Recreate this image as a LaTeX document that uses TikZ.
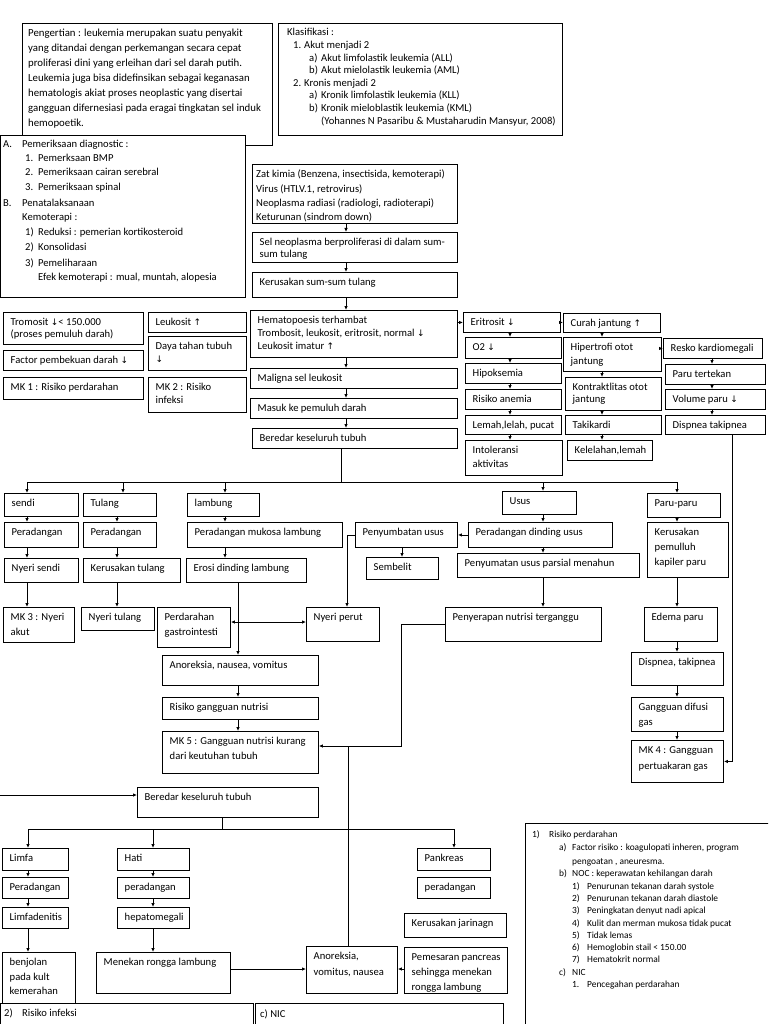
\documentclass[tikz,border=0pt]{standalone}
\usepackage{fontspec}
\setmainfont{Carlito}
\newfontfamily\dvfont{DejaVu Sans}[Scale=0.85]
\usetikzlibrary{arrows.meta,calc}
\newcommand\da{{\dvfont ↓}}
\newcommand\ua{{\dvfont ↑}}
\newcommand\fsz{10.6}
\tikzset{
  boxs/.style={draw=black, line width=0.9pt, fill=white, inner sep=0pt, rectangle},
  txt/.style={inner sep=0pt, align=left, font=\fontsize{\fsz}{14}\selectfont},
  arr/.style={line width=0.8pt, -{Latex[length=4pt,width=3.5pt]}},
  darr/.style={line width=0.8pt, {Latex[length=4pt,width=3.5pt]}-{Latex[length=4pt,width=3.5pt]}},
  ln/.style={line width=0.8pt},
}
% box: [spacing]{name}{x1}{y1}{x2}{y2}{text}
\newcommand\bx[7][14]{%
  \node[boxs, anchor=north west, minimum width={(#5-#3)*1pt}, minimum height={(#6-#4)*1pt}] (#2) at (#3,#4) {};
  \node[txt, anchor=north west, font=\fontsize{\fsz}{#1}\selectfont] (#2-t) at (#3+7.5,#4+4.5) {\rule{0pt}{9pt}#7};
}
\newcommand\ebx[5]{%
  \node[boxs, anchor=north west, minimum width={(#4-#2)*1pt}, minimum height={(#5-#3)*1pt}] (#1) at (#2,#3) {};
}
% text line: {name}{x}{baseline y}{text}
\newcommand\tl[4]{\node[txt, anchor=base west] (#1) at (#2,#3) {#4};}
\newcommand\va[3]{\draw[arr] (#1.south -| #3) -- (#2.north -| #3);}
\begin{document}
\begin{tikzpicture}[x=1pt,y=-1pt]
\useasboundingbox (0,0) rectangle (768,1024);
\clip (0,0) rectangle (768,1024);
\fill[white] (0,0) rectangle (768,1024);

% ---------- top text boxes ----------
\ebx{peng}{22}{23}{272}{145}
\node[txt, anchor=north west, font=\fontsize{10.8}{15}\selectfont] (peng-t) at (28,27) {\rule{0pt}{9pt}Pengertian : leukemia merupakan suatu penyakit\\
yang ditandai dengan perkemangan secara cepat\\
proliferasi dini yang erleihan dari sel darah putih.\\
Leukemia juga bisa didefinsikan sebagai keganasan\\
hematologis akiat proses neoplastic yang disertai\\
gangguan difernesiasi pada eragai tingkatan sel induk\\
hemopoetik.};

\ebx{klas}{278}{23}{562}{135}
\begin{scope}[txt/.append style={font=\fontsize{10.6}{13}\selectfont}]
\tl{k1}{287}{36}{Klasifikasi :}
\tl{k2a}{293}{48.6}{1.}\tl{k2}{304}{48.6}{Akut menjadi 2}
\tl{k3a}{309}{61.2}{a)}\tl{k3}{321}{61.2}{Akut limfolastik leukemia (ALL)}
\tl{k4a}{309}{73.8}{b)}\tl{k4}{321}{73.8}{Akut mielolastik leukemia (AML)}
\tl{k5a}{293}{86.4}{2.}\tl{k5}{304}{86.4}{Kronis menjadi 2}
\tl{k6a}{309}{99}{a)}\tl{k6}{321}{99}{Kronik limfolastik leukemia (KLL)}
\tl{k7a}{309}{111.6}{b)}\tl{k7}{321}{111.6}{Kronik mieloblastik leukemia (KML)}
\tl{k8}{321}{124.2}{(Yohannes N Pasaribu \& Mustaharudin Mansyur, 2008)}
\end{scope}

\ebx{diag}{0}{135}{245}{297}
\tl{d1a}{3}{148}{A.}\tl{d1}{22}{148}{Pemeriksaan diagnostic :}
\tl{d2a}{25}{162}{1.}\tl{d2}{38}{162}{Pemerksaan BMP}
\tl{d3a}{25}{176}{2.}\tl{d3}{38}{176}{Pemeriksaan cairan serebral}
\tl{d4a}{25}{191}{3.}\tl{d4}{38}{191}{Pemeriksaan spinal}
\tl{d5a}{3}{207}{B.}\tl{d5}{22}{207}{Penatalaksanaan}
\tl{d6}{22}{221}{Kemoterapi :}
\tl{d7a}{25}{236}{1)}\tl{d7}{38}{236}{Reduksi : pemerian kortikosteroid}
\tl{d8a}{25}{251}{2)}\tl{d8}{38}{251}{Konsolidasi}
\tl{d9a}{25}{266}{3)}\tl{d9}{38}{266}{Pemeliharaan}
\tl{d10}{38}{280}{Efek kemoterapi : mual, muntah, alopesia}

% ---------- main column ----------
\node[boxs, anchor=north west, minimum width=205pt, minimum height=59pt] (zat) at (252,164) {};
\node[txt, anchor=north west, font=\fontsize{\fsz}{14.3}\selectfont] (zat-t) at (256,168.5) {\rule{0pt}{9pt}Zat kimia (Benzena, insectisida, kemoterapi)\\Virus (HTLV.1, retrovirus)\\Neoplasma radiasi (radiologi, radioterapi)\\Keturunan (sindrom down)};
\bx[12]{sel}{252}{232}{457}{262}{Sel neoplasma berproliferasi di dalam sum-\\sum tulang}
\bx{kerus}{252}{272}{457}{297}{Kerusakan sum-sum tulang}
\bx[13]{hema}{250}{310}{457}{357}{Hematopoesis terhambat\\Trombosit, leukosit, eritrosit, normal \da\\Leukosit imatur \ua}
\bx{maligna}{250}{368}{457}{388}{Maligna sel leukosit}
\bx{masuk}{250}{398}{457}{418}{Masuk ke pemuluh darah}
\bx{beredar}{252}{428}{457}{448}{Beredar keseluruh tubuh}

% ---------- left column ----------
\bx[12]{trom}{3}{312}{143}{344}{Tromosit \da< 150.000\\(proses pemuluh darah)}
\bx{factor}{3}{350}{143}{370}{Factor pembekuan darah \da}
\bx{mk1}{3}{377}{143}{399}{MK 1 : Risiko perdarahan}
\bx{leuk}{148}{312}{246}{332}{Leukosit \ua}
\bx[13]{daya}{148}{336}{246}{370}{Daya tahan tubuh\\\da}
\bx[13]{mk2}{148}{377}{246}{412}{MK 2 : Risiko\\infeksi}

% ---------- right columns ----------
\bx{erit}{463}{312}{560}{332}{Eritrosit \da}
\bx{curah}{563}{313}{660}{332}{Curah jantung \ua}
\bx{o2}{465}{337}{561}{358}{O2 \da}
\bx{hipok}{465}{363}{561}{383}{Hipoksemia}
\bx{anemia}{465}{389}{561}{409}{Risiko anemia}
\bx{lemah}{465}{415}{561}{434}{Lemah,lelah, pucat}
\bx{intol}{465}{440}{562}{475}{Intoleransi\\aktivitas}
\bx{hipert}{563}{337}{661}{371}{Hipertrofi otot\\jantung}
\bx[12]{kontr}{565}{377}{661}{410}{Kontraktlitas otot\\jantung}
\bx{taki}{565}{415}{661}{434}{Takikardi}
\bx{kelel}{567}{440}{652}{460}{Kelelahan,lemah}
\bx{resko}{663}{338}{762}{358}{Resko kardiomegali}
\bx{parut}{665}{364}{765}{384}{Paru tertekan}
\bx{volume}{665}{389}{765}{409}{Volume paru \da}
\bx{dispt}{665}{415}{765}{434}{Dispnea takipnea}

% ---------- middle row ----------
\bx{sendi}{4}{493}{78}{516}{sendi}
\bx{tulang}{83}{493}{156}{516}{Tulang}
\bx{lambung}{187}{493}{259}{516}{lambung}
\bx{usus}{502}{491}{576}{514}{Usus}
\bx{paru}{647}{493}{720}{517}{Paru-paru}
\bx{perad1}{4}{522}{78}{547}{Peradangan}
\bx{perad2}{83}{522}{156}{547}{Peradangan}
\bx{peradml}{187}{522}{342}{547}{Peradangan mukosa lambung}
\bx{penyumb}{355}{522}{457}{547}{Penyumbatan usus}
\bx{peraddu}{468}{522}{612}{547}{Peradangan dinding usus}
\bx[15]{kerparu}{647}{522}{728}{577}{Kerusakan\\pemulluh\\kapiler paru}
\bx{nyerisendi}{4}{558}{78}{582}{Nyeri sendi}
\bx{kertulang}{83}{558}{180}{582}{Kerusakan tulang}
\bx{erosi}{186}{558}{306}{582}{Erosi dinding lambung}
\bx{sembelit}{366}{557}{438}{579}{Sembelit}
\bx{penyumat}{457}{553}{639}{577}{Penyumatan usus parsial menahun}
\bx[15]{mk3}{3}{607}{74}{642}{MK 3 : Nyeri\\akut}
\bx{nyeritulang}{81}{607}{154}{630}{Nyeri tulang}
\bx[15]{perdgi}{157}{607}{230}{647}{Perdarahan\\gastrointesti}
\bx{nyeriperut}{306}{607}{379}{641}{Nyeri perut}
\bx{penyerapan}{445}{607}{601}{641}{Penyerapan nutrisi terganggu}
\bx{edema}{644}{607}{717}{641}{Edema paru}
\bx{anor1}{162}{655}{318}{685}{Anoreksia, nausea, vomitus}
\bx{dispnea2}{631}{652}{723}{685}{Dispnea, takipnea}
\bx{risgizi}{162}{697}{318}{719}{Risiko gangguan nutrisi}
\bx[15]{gangg}{631}{697}{723}{731}{Gangguan difusi\\gas}
\bx[15]{mk5}{162}{731}{318}{773}{MK 5 : Gangguan nutrisi kurang\\dari keutuhan tubuh}
\bx[16]{mk4}{631}{740}{723}{782}{MK 4 : Gangguan\\pertuakaran gas}

% ---------- lower part ----------
\bx{beredar2}{137}{787}{318}{817}{Beredar keseluruh tubuh}
\bx{limfa}{2}{848}{68}{870}{Limfa}
\bx{hati}{117}{848}{189}{870}{Hati}
\bx{pankreas}{417}{848}{490}{870}{Pankreas}
\bx{perad3}{2}{877}{68}{898}{Peradangan}
\bx{perad4}{117}{877}{189}{898}{peradangan}
\bx{perad5}{417}{877}{490}{898}{peradangan}
\bx{limfad}{2}{907}{68}{928}{Limfadenitis}
\bx{hepato}{117}{907}{189}{928}{hepatomegali}
\bx{kerjar}{404}{913}{506}{937}{Kerusakan jarinagn}
\bx[14.5]{benjolan}{2}{952}{75}{1003}{benjolan\\pada kult\\kemerahan}
\bx{menekan}{96}{952}{230}{993}{Menekan rongga lambung}
\bx[16]{anor2}{306}{946}{397}{993}{Anoreksia,\\vomitus, nausea}
\bx[15]{pemes}{404}{947}{507}{993}{Pemesaran pancreas\\sehingga menekan\\rongga lambung}

% bottom list boxes
\ebx{rinf}{0}{1003}{253}{1040}
\tl{ri1a}{4}{1016}{2)}\tl{ri1}{22}{1016}{Risiko infeksi}
\ebx{nic}{255}{1003}{503}{1040}
\tl{nic1}{260}{1017}{c) NIC}
\ebx{rbox}{525}{823}{772}{1040}
\begin{scope}[txt/.append style={font=\fontsize{9.4}{12}\selectfont}]
\tl{r1a}{532}{837}{1)}\tl{r1}{549}{837}{Risiko perdarahan}
\tl{r2a}{559}{850}{a)}\tl{r2}{572}{850}{Factor risiko : koagulopati inheren, program}
\tl{r3}{572}{864}{pengoatan , aneuresma.}
\tl{r4a}{559}{876}{b)}\tl{r4}{572}{876}{NOC : keperawatan kehilangan darah}
\tl{r5a}{572}{889}{1)}\tl{r5}{587}{889}{Penurunan tekanan darah systole}
\tl{r6a}{572}{901}{2)}\tl{r6}{587}{901}{Penurunan tekanan darah diastole}
\tl{r7a}{572}{913}{3)}\tl{r7}{587}{913}{Peningkatan denyut nadi apical}
\tl{r8a}{572}{926}{4)}\tl{r8}{587}{926}{Kulit dan merman mukosa tidak pucat}
\tl{r9a}{572}{938}{5)}\tl{r9}{587}{938}{Tidak lemas}
\tl{r10a}{572}{950}{6)}\tl{r10}{587}{950}{Hemoglobin stail < 150.00}
\tl{r11a}{572}{962}{7)}\tl{r11}{587}{962}{Hematokrit normal}
\tl{r12a}{559}{975}{c)}\tl{r12}{572}{975}{NIC}
\tl{r13a}{572}{987}{1.}\tl{r13}{587}{987}{Pencegahan perdarahan}
\end{scope}

% ---------- column coordinates ----------
\coordinate (cM) at (346,0);
\coordinate (cE) at (510,0);
\coordinate (cC) at (602,0);
\coordinate (cR) at (712,0);
\coordinate (cD) at (732,0);
\coordinate (cS) at (27,0);
\coordinate (cT) at (117,0);
\coordinate (cT2) at (123,0);
\coordinate (cL) at (225,0);
\coordinate (cA) at (238,0);
\coordinate (cU) at (543,0);
\coordinate (cP) at (677,0);
\coordinate (cSb) at (402,0);
\coordinate (cNP) at (347,0);
\coordinate (cLf) at (28,0);
\coordinate (cH) at (153,0);
\coordinate (cPk) at (454,0);
\coordinate (bus1) at (341,482);
\coordinate (bus2) at (222,829);
\coordinate (j1) at (401,746);
\coordinate (j2) at (348,746);
\coordinate (inL) at (0,795);
\coordinate (yA) at (0,969);
\coordinate (yDP) at (0,622);

% ---------- connectors ----------
\va{zat}{sel}{cM}
\va{sel}{kerus}{cM}
\va{kerus}{hema}{cM}
\va{hema}{maligna}{cM}
\va{maligna}{masuk}{cM}
\va{masuk}{beredar}{cM}

\draw[arr] (hema.east |- erit.west) -- (erit.west);
\draw[arr] (erit.east) -- (curah.west |- erit.east);
\va{erit}{o2}{cE}
\va{o2}{hipok}{cE}
\va{hipok}{anemia}{cE}
\va{anemia}{lemah}{cE}
\va{lemah}{intol}{cE}
\va{curah}{hipert}{cC}
\va{hipert}{kontr}{cC}
\va{kontr}{taki}{cC}
\va{taki}{kelel}{cC}
\draw[arr] (hipert.east |- resko.west) -- (resko.west);
\va{resko}{parut}{cR}
\va{parut}{volume}{cR}
\va{volume}{dispt}{cR}
\draw[arr] (dispt.south -| cD) |- (mk4.east);

% bus 1
\draw[ln] (beredar.south -| bus1) -- (bus1);
\draw[ln] (bus1 -| cS) -- (bus1 -| cP);
\draw[arr] (bus1 -| cS) -- (sendi.north -| cS);
\draw[arr] (bus1 -| cT2) -- (tulang.north -| cT2);
\draw[arr] (bus1 -| cL) -- (lambung.north -| cL);
\draw[arr] (bus1 -| cU) -- (usus.north -| cU);
\draw[arr] (bus1 -| cP) -- (paru.north -| cP);

\va{sendi}{perad1}{cS}
\va{perad1}{nyerisendi}{cS}
\va{nyerisendi}{mk3}{cS}
\va{tulang}{perad2}{cT}
\va{perad2}{kertulang}{cT}
\va{kertulang}{nyeritulang}{cT}
\va{lambung}{peradml}{cL}
\va{peradml}{erosi}{cL}
\va{erosi}{anor1}{cA}
\draw[darr] (perdgi.east |- yDP) -- (nyeriperut.west |- yDP);
\va{anor1}{risgizi}{cA}
\va{risgizi}{mk5}{cA}

\va{usus}{peraddu}{cU}
\va{peraddu}{penyumat}{cU}
\va{penyumat}{penyerapan}{cU}
\draw[arr] (peraddu.west) -- (penyumb.east);
\va{penyumb}{sembelit}{cSb}
\draw[arr] (penyumb.west) -| (nyeriperut.north -| cNP);
\draw[arr] (penyerapan.west) -| (j1) -- (mk5.east |- j1);
\draw[ln] (j2) -- (anor2.north -| j2);

\va{paru}{kerparu}{cP}
\va{kerparu}{edema}{cP}
\va{edema}{dispnea2}{cP}
\va{dispnea2}{gangg}{cP}
\va{gangg}{mk4}{cP}

% lower
\draw[arr] (inL) -- (beredar2.west |- inL);
\draw[ln] (beredar2.south -| bus2) -- (bus2);
\draw[ln] (bus2 -| cLf) -- (bus2 -| cPk);
\draw[arr] (bus2 -| cLf) -- (limfa.north -| cLf);
\draw[arr] (bus2 -| cH) -- (hati.north -| cH);
\draw[arr] (bus2 -| cPk) -- (pankreas.north -| cPk);
\va{limfa}{perad3}{cLf}
\va{perad3}{limfad}{cLf}
\va{limfad}{benjolan}{cLf}
\va{hati}{perad4}{cH}
\va{perad4}{hepato}{cH}
\va{hepato}{menekan}{cH}
\draw[arr] (menekan.east |- yA) -- (anor2.west |- yA);
\draw[arr] (pemes.west |- yA) -- (anor2.east |- yA);
\end{tikzpicture}
\end{document}
